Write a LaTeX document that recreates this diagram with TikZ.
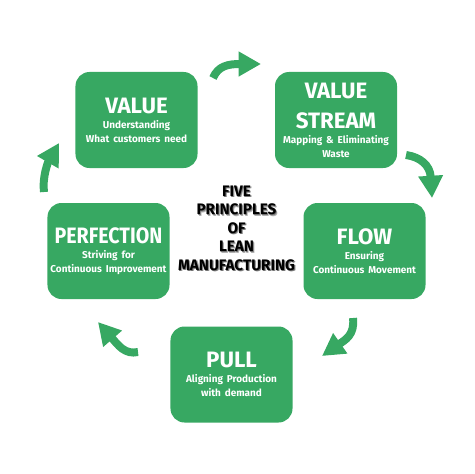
\documentclass[tikz,border=0pt]{standalone}
\usepackage{fontspec}
\setmainfont{Fira Sans}
\usetikzlibrary{arrows.meta}
\definecolor{leangreen}{RGB}{55,168,98}
\newcommand{\titlefont}{\fontsize{19}{25.5}\selectfont\bfseries}
\newcommand{\subfont}{\fontsize{8.5}{12.8}\selectfont\bfseries}
% gray shadow behind a line of the heading
\newcommand{\shadowed}[1]{\leavevmode\rlap{\kern1.3pt\raisebox{-1.3pt}{\textcolor{black!30}{#1}}}\rlap{\kern0.6pt\raisebox{-0.6pt}{\textcolor{black!55}{#1}}}#1}
\tikzstyle{principle} = [fill=leangreen,rounded corners=0.42cm,minimum width=3.66cm,minimum height=2.88cm,text width=3.6cm,align=center,text=white,inner sep=0pt]
\tikzstyle{turn} = [leangreen,line width=6.8pt,-{Triangle[width=20pt,length=19pt]}]
\tikzstyle{heading} = [align=center,font=\fontsize{13}{15.8}\selectfont\bfseries]

\begin{document}
\begin{tikzpicture}[x=0.03cm,y=-0.03cm]
  \useasboundingbox (0,0) rectangle (474,474);

  %value
  \node[principle] (value) at (136.5,120) {\titlefont VALUE\par\subfont Understanding\\What customers need};

  %value stream
  \node[principle] (stream) at (336,120) {\titlefont VALUE\\STREAM\par\subfont Mapping \& Eliminating\\Waste};

  %flow
  \node[principle] (flow) at (364.5,251) {\titlefont FLOW\par\subfont Ensuring\\Continuous Movement};

  %pull
  \node[principle] (pull) at (231.5,374.5) {\titlefont PULL\par\subfont Aligning Production\\with demand};

  %perfection
  \node[principle] (perfection) at (108.5,251) {\titlefont \scalebox{0.88}[1]{PERFECTION}\par\subfont Striving for\\Continuous Improvement};

  %center title
  \node[heading,text=black] (title) at (236.5,229) {\shadowed{FIVE}\\\shadowed{PRINCIPLES}\\\shadowed{OF}\\\shadowed{LEAN}\\\shadowed{MANUFACTURING}};

  %arrow ends
  \coordinate (t1) at (213,78);   \coordinate (h1) at (261,64);
  \coordinate (t2) at (406,155);  \coordinate (h2) at (432,198);
  \coordinate (t3) at (353,318);  \coordinate (h3) at (322,356);
  \coordinate (t4) at (138,352);  \coordinate (h4) at (98,322);
  \coordinate (t5) at (44,192);   \coordinate (h5) at (59,143);

  %draw the arrows
  \draw[turn] (t1) .. controls (218,66) and (228,64) .. (h1);
  \draw[turn] (t2) .. controls (420,157) and (430,165) .. (h2);
  \draw[turn] (t3) .. controls (355,335) and (345,340) .. (h3);
  \draw[turn] (t4) .. controls (125,355) and (118,345) .. (h4);
  \draw[turn] (t5) .. controls (42,178) and (48,162) .. (h5);

\end{tikzpicture}
\end{document}
